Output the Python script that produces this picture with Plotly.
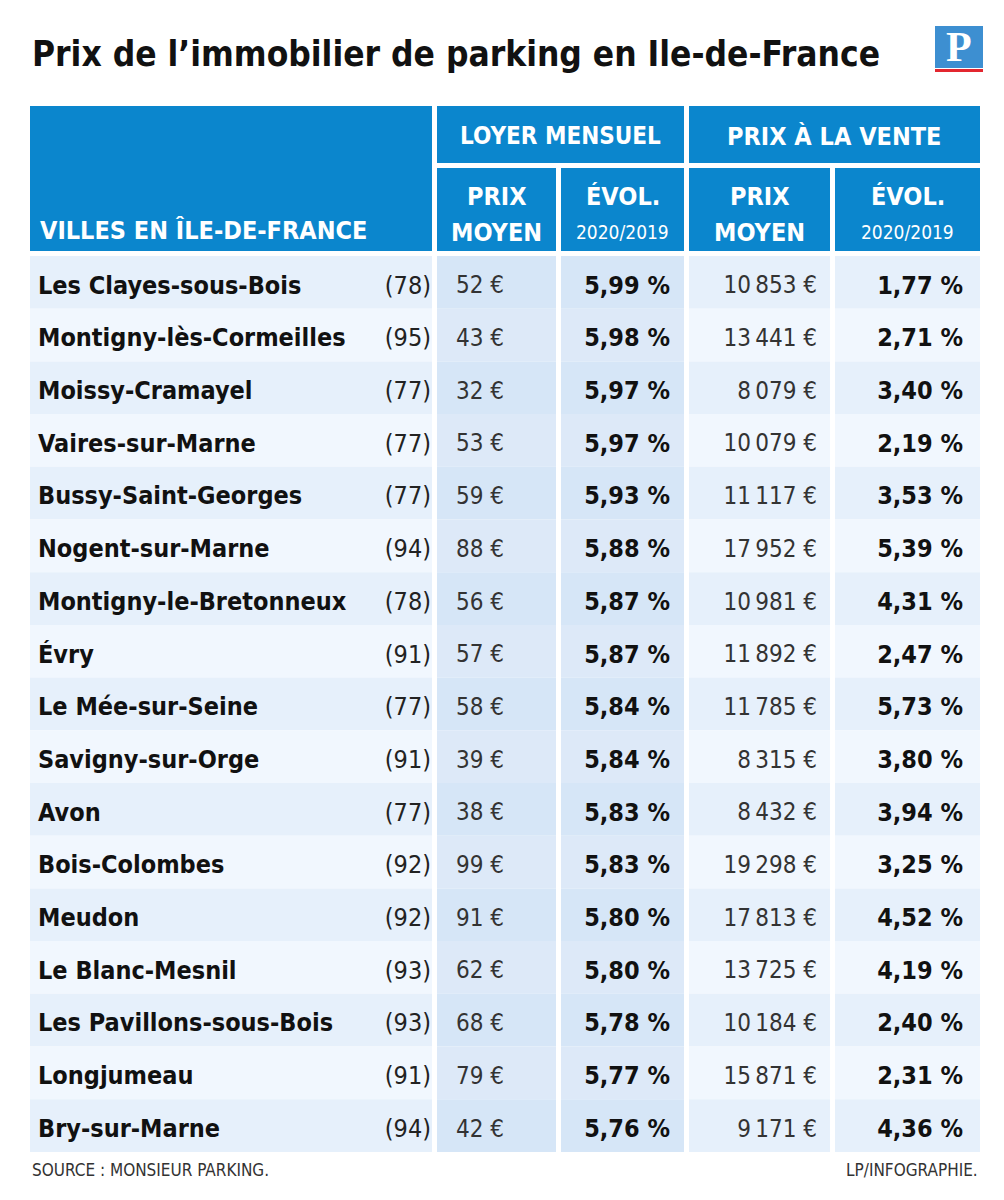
import plotly.graph_objects as go

villes = ["Les Clayes-sous-Bois","Montigny-lès-Cormeilles","Moissy-Cramayel","Vaires-sur-Marne",
          "Bussy-Saint-Georges","Nogent-sur-Marne","Montigny-le-Bretonneux","Évry","Le Mée-sur-Seine",
          "Savigny-sur-Orge","Avon","Bois-Colombes","Meudon","Le Blanc-Mesnil","Les Pavillons-sous-Bois",
          "Longjumeau","Bry-sur-Marne"]
depts = ["78","95","77","77","77","94","78","91","77","91","77","92","92","93","93","91","94"]
loyer_prix = [52,43,32,53,59,88,56,57,58,39,38,99,91,62,68,79,42]
loyer_evol = [5.99,5.98,5.97,5.97,5.93,5.88,5.87,5.87,5.84,5.84,5.83,5.83,5.80,5.80,5.78,5.77,5.76]
vente_prix = [10853,13441,8079,10079,11117,17952,10981,11892,11785,8315,8432,19298,17813,13725,10184,15871,9171]
vente_evol = [1.77,2.71,3.40,2.19,3.53,5.39,4.31,2.47,5.73,3.80,3.94,3.25,4.52,4.19,2.40,2.31,4.36]

BLUE = "#0b86cd"
TOP = 256.0
RH = 52.7
cols = [(30, 432), (437, 556), (561, 684), (689, 830), (835, 980)]

def pct(v): return f"{v:.2f}".replace(".", ",") + " %"
def eur(v):
    s = f"{v:,}".replace(",", "\u2009")
    return s + " €"

n = len(villes)
yc = [TOP + RH * (i + 0.5) + 5 for i in range(n)]

shapes = []
shapes.append(dict(type="rect", x0=30, x1=432, y0=106, y1=251, fillcolor=BLUE, line_width=0))
shapes.append(dict(type="rect", x0=437, x1=684, y0=106, y1=163, fillcolor=BLUE, line_width=0))
shapes.append(dict(type="rect", x0=689, x1=980, y0=106, y1=163, fillcolor=BLUE, line_width=0))
for (a, b) in cols[1:]:
    shapes.append(dict(type="rect", x0=a, x1=b, y0=168, y1=251, fillcolor=BLUE, line_width=0))
for i in range(n):
    y0 = TOP + RH * i
    odd = i % 2 == 0
    for j, (a, b) in enumerate(cols):
        if j in (1, 2):
            c = "#d6e6f7" if odd else "#dde9f8"
        else:
            c = "#e6f0fb" if odd else "#f1f7fe"
        shapes.append(dict(type="rect", x0=a, x1=b, y0=y0, y1=y0 + RH, fillcolor=c, line_width=0, layer="below"))
shapes.append(dict(type="rect", x0=935, x1=983, y0=26, y1=68, fillcolor="#3d8fd1", line_width=0))
shapes.append(dict(type="rect", x0=935, x1=983, y0=69, y1=72, fillcolor="#e3262f", line_width=0))

BOLD = "DejaVu Sans Condensed"
fig = go.Figure()
def txt(xs, ys, t, pos, size, color="#111", weight="bold", family=BOLD):
    fig.add_trace(go.Scatter(x=xs, y=ys, text=t, mode="text", textposition=pos,
                             textfont=dict(size=size, color=color, family=family, weight=weight),
                             hoverinfo="skip", showlegend=False))

txt([38]*n, yc, villes, "middle right", 25)
txt([431]*n, yc, [f"({d})" for d in depts], "middle left", 25, weight="normal", color="#222")
txt([456]*n, yc, [f"{v} €" for v in loyer_prix], "middle right", 24, weight="normal", color="#333")
txt([670]*n, yc, [pct(v) for v in loyer_evol], "middle left", 25)
txt([817]*n, yc, [eur(v) for v in vente_prix], "middle left", 24, weight="normal", color="#333")
txt([963]*n, yc, [pct(v) for v in vente_evol], "middle left", 25)

fig.update_layout(
    width=1004, height=1200, margin=dict(l=0, r=0, t=0, b=0),
    plot_bgcolor="white", paper_bgcolor="white", shapes=shapes,
    xaxis=dict(range=[8, 1012], visible=False, fixedrange=True),
    yaxis=dict(range=[1208, 8], visible=False, fixedrange=True),
    annotations=[
        dict(x=30, y=54, xref="x", yref="y", text="<b>Prix de l’immobilier de parking en Ile-de-France</b>",
             showarrow=False, xanchor="left", font=dict(size=35, family=BOLD, color="#111")),
        dict(x=959, y=47, xref="x", yref="y", text="<b>P</b>", showarrow=False,
             font=dict(size=42, family="Liberation Serif", color="white")),
        dict(x=38, y=230, xref="x", yref="y", text="<b>VILLES EN ÎLE-DE-FRANCE</b>", showarrow=False,
             xanchor="left", font=dict(size=25, family=BOLD, color="white")),
        dict(x=560, y=136, xref="x", yref="y", text="<b>LOYER MENSUEL</b>", showarrow=False,
             font=dict(size=24, family=BOLD, color="white")),
        dict(x=834, y=136, xref="x", yref="y", text="<b>PRIX À LA VENTE</b>", showarrow=False,
             font=dict(size=25, family=BOLD, color="white")),
        dict(x=30, y=1170, xref="x", yref="y", text="SOURCE : MONSIEUR PARKING.", showarrow=False,
             xanchor="left", font=dict(size=17, family=BOLD, color="#333")),
        dict(x=980, y=1170, xref="x", yref="y", text="LP/INFOGRAPHIE.", showarrow=False,
             xanchor="right", font=dict(size=17, family=BOLD, color="#333")),
    ],
)
for (a, b), top in zip(cols[1:], ["PRIX", "ÉVOL.", "PRIX", "ÉVOL."]):
    bottom = "MOYEN" if top == "PRIX" else "2020/2019"
    bsize = 25 if top == "PRIX" else 19
    fig.add_annotation(x=(a+b)/2, y=196, xref="x", yref="y", text=f"<b>{top}</b>", showarrow=False,
                       font=dict(size=25, family=BOLD, color="white"))
    fig.add_annotation(x=(a+b)/2, y=232, xref="x", yref="y", text=f"<b>{bottom}</b>" if top=="PRIX" else bottom,
                       showarrow=False, font=dict(size=bsize, family=BOLD, color="white"))

fig.write_html("out.html")
